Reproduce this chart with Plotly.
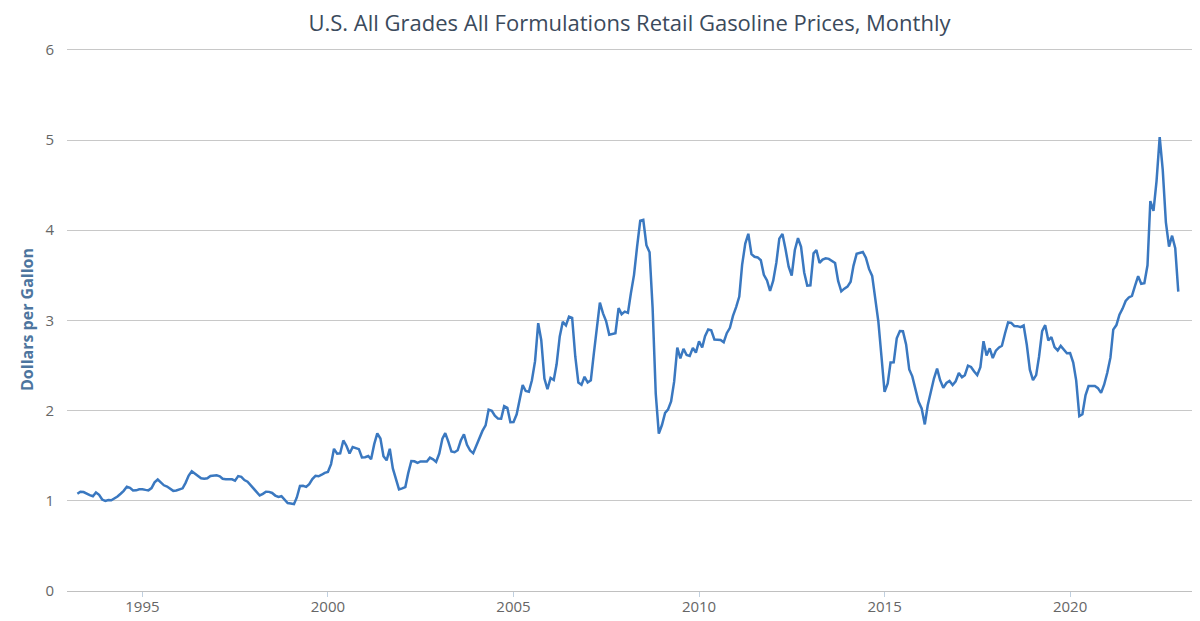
import pandas as pd
import plotly.graph_objects as go

# monthly retail prices, $/gal, Apr 1993 - Dec 2022
prices_1990s = [
    1.078, 1.100, 1.097, 1.078, 1.062, 1.050, 1.092, 1.066, 1.014,
    0.998, 1.009, 1.006, 1.026, 1.047, 1.078, 1.110, 1.155, 1.144, 1.114, 1.116, 1.127,
    1.129, 1.121, 1.116, 1.141, 1.205, 1.236, 1.206, 1.172, 1.158, 1.138, 1.110, 1.114,
    1.129, 1.138, 1.199, 1.280, 1.328, 1.301, 1.279, 1.250, 1.244, 1.250, 1.276, 1.282,
    1.282, 1.272, 1.244, 1.239, 1.235, 1.238, 1.223, 1.274, 1.265, 1.230, 1.212, 1.172,
    1.131, 1.091, 1.059, 1.077, 1.101, 1.099, 1.087, 1.058, 1.042, 1.051, 1.017, 0.975,
    0.970, 0.963, 1.037, 1.165, 1.167, 1.155, 1.185, 1.241, 1.277, 1.272, 1.289, 1.310,
]
prices_2000s = [
    1.319, 1.407, 1.576, 1.523, 1.526, 1.669, 1.611, 1.525, 1.597, 1.585, 1.573, 1.481,
    1.483, 1.497, 1.460, 1.628, 1.747, 1.690, 1.495, 1.449, 1.577, 1.359, 1.229, 1.126,
    1.137, 1.152, 1.304, 1.441, 1.438, 1.420, 1.437, 1.439, 1.436, 1.478, 1.459, 1.431,
    1.524, 1.690, 1.751, 1.654, 1.546, 1.538, 1.560, 1.668, 1.737, 1.620, 1.557, 1.527,
    1.618, 1.703, 1.775, 1.836, 2.011, 1.998, 1.943, 1.911, 1.909, 2.049, 2.031, 1.871,
    1.874, 1.959, 2.105, 2.283, 2.217, 2.209, 2.337, 2.548, 2.970, 2.781, 2.355, 2.237,
    2.362, 2.339, 2.513, 2.822, 2.984, 2.945, 3.041, 3.027, 2.597, 2.310, 2.285, 2.375,
    2.311, 2.335, 2.617, 2.907, 3.197, 3.078, 2.993, 2.842, 2.850, 2.858, 3.137, 3.069,
    3.097, 3.084, 3.299, 3.505, 3.815, 4.105, 4.114, 3.833, 3.756, 3.139, 2.186, 1.745,
    1.840, 1.975, 2.011, 2.102, 2.321, 2.699, 2.579, 2.684, 2.616, 2.606, 2.695, 2.642,
]
prices_2010s = [
    2.769, 2.700, 2.825, 2.899, 2.890, 2.788, 2.786, 2.784, 2.758, 2.858, 2.917, 3.050,
    3.148, 3.264, 3.615, 3.852, 3.960, 3.735, 3.705, 3.698, 3.667, 3.506, 3.443, 3.326,
    3.440, 3.640, 3.907, 3.958, 3.791, 3.596, 3.498, 3.780, 3.912, 3.816, 3.531, 3.386,
    3.389, 3.743, 3.779, 3.638, 3.674, 3.689, 3.682, 3.661, 3.637, 3.437, 3.322, 3.352,
    3.375, 3.429, 3.605, 3.738, 3.752, 3.759, 3.695, 3.571, 3.493, 3.258, 2.986, 2.608,
    2.207, 2.301, 2.534, 2.535, 2.801, 2.882, 2.880, 2.734, 2.456, 2.380, 2.228, 2.101,
    2.024, 1.847, 2.059, 2.205, 2.355, 2.465, 2.337, 2.253, 2.306, 2.329, 2.283, 2.325,
    2.417, 2.369, 2.392, 2.499, 2.484, 2.433, 2.393, 2.481, 2.770, 2.612, 2.690, 2.583,
    2.665, 2.700, 2.719, 2.858, 2.978, 2.973, 2.937, 2.936, 2.925, 2.943, 2.730, 2.454,
    2.337, 2.393, 2.594, 2.881, 2.947, 2.777, 2.816, 2.703, 2.667, 2.718, 2.681, 2.636,
]
prices_2020s = [
    2.637, 2.533, 2.335, 1.938, 1.960, 2.170, 2.272, 2.274, 2.272, 2.249, 2.196, 2.287,
    2.420, 2.587, 2.898, 2.948, 3.064, 3.131, 3.216, 3.255, 3.272, 3.384, 3.491, 3.406,
    3.413, 3.611, 4.322, 4.213, 4.545, 5.032, 4.668, 4.087, 3.817, 3.939, 3.800, 3.320,
]

prices = prices_1990s + prices_2000s + prices_2010s + prices_2020s
months = pd.date_range("1993-04-01", periods=len(prices), freq="MS")

tick_years = [1995, 2000, 2005, 2010, 2015, 2020]
tick_vals = [pd.Timestamp(year=y, month=1, day=1) for y in tick_years]
tick_text = [str(y) for y in tick_years]

# page body has an 8px margin, so the figure is sized to fit what is left
fig_w, fig_h = 1192, 613

fig = go.Figure()
fig.add_trace(go.Scatter(
    x=months,
    y=prices,
    mode='lines',
    line=dict(color='#3a78c0', width=2.5),
    name='U.S. All Grades All Formulations',
    hovertemplate='%{x|%b %Y}: $%{y:.3f}<extra></extra>'
))

fig.update_layout(
    width=fig_w,
    height=fig_h,
    margin=dict(l=59, r=8, t=40, b=30, autoexpand=False),
    paper_bgcolor='white',
    plot_bgcolor='white',
    font=dict(family='Open Sans, sans-serif', color='#666666', size=15),
    showlegend=False,
    title=dict(
        text='U.S. All Grades All Formulations Retail Gasoline Prices, Monthly',
        x=0.5,
        xanchor='center',
        xref='paper',
        y=1 - 15 / fig_h,
        yref='container',
        yanchor='middle',
        automargin=False,
        font=dict(size=22, color='#3b4a5c'),
    ),
)

fig.update_xaxes(
    range=['1992-12-20', '2023-04-15'],
    tickvals=tick_vals,
    ticktext=tick_text,
    showgrid=False,
    showline=True,
    linecolor='#c0c0c0',
    linewidth=1,
    ticks='outside',
    ticklen=5,
    tickcolor='#c0d0e0',
    zeroline=False,
    automargin=False,
    ticklabelstandoff=-3,
    tickfont=dict(size=15, color='#666666'),
)

fig.update_yaxes(
    range=[0, 6.02],
    tickvals=[0, 1, 2, 3, 4, 5, 6],
    showgrid=True,
    gridcolor='#c8c8c8',
    gridwidth=1,
    zeroline=False,
    showline=False,
    automargin=False,
    ticklabelstandoff=12,
    tickfont=dict(size=15, color='#666666'),
    title=dict(
        text='<b>Dollars per Gallon</b>',
        font=dict(size=16, color='#4d759e'),
        standoff=7,
    ),
)

fig.write_html("out.html")
